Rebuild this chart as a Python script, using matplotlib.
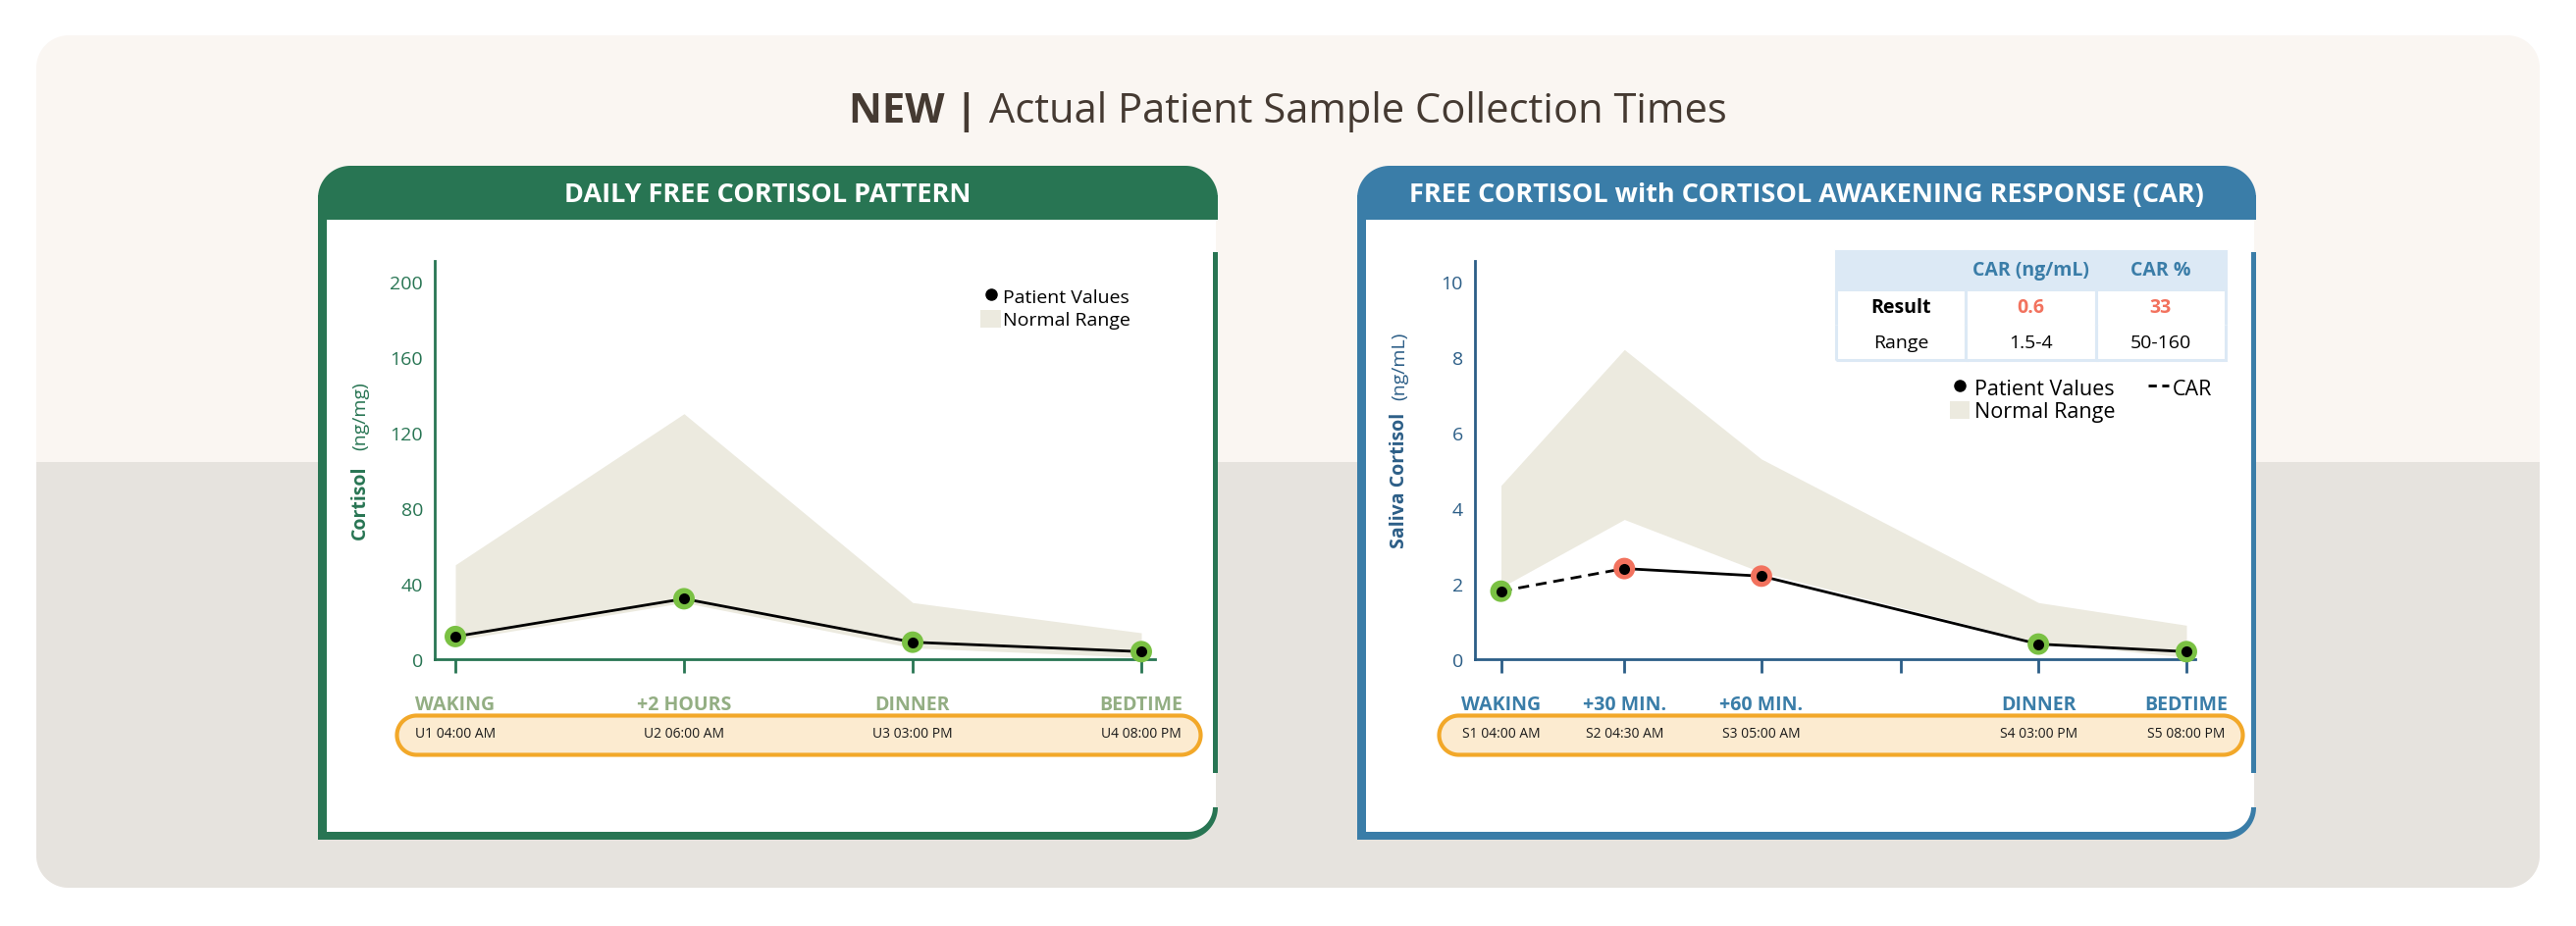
import numpy as np
import matplotlib
matplotlib.use('Agg')
import matplotlib.pyplot as plt
from matplotlib.patches import Polygon, Rectangle, Patch
from matplotlib.lines import Line2D
from matplotlib import transforms

plt.rcParams['font.family'] = ['Open Sans', 'DejaVu Sans']

W, H = 2625, 945

# daily free cortisol (urine), ng/mg
daily_labels = ['WAKING', '+2 HOURS', 'DINNER', 'BEDTIME']
daily_times = ['U1 04:00 AM', 'U2 06:00 AM', 'U3 03:00 PM', 'U4 08:00 PM']
daily_values = [12, 32, 9, 4]
daily_low = [10, 30, 6, 1]
daily_high = [50, 130, 30, 14]
daily_flag = ['ok', 'ok', 'ok', 'ok']
daily_yticks = [0, 40, 80, 120, 160, 200]

# saliva cortisol with awakening response, ng/mL
car_slots = [0, 0.9, 1.9, 2.92, 3.92, 5.0]
car_labels = ['WAKING', '+30 MIN.', '+60 MIN.', '', 'DINNER', 'BEDTIME']
car_times = ['S1 04:00 AM', 'S2 04:30 AM', 'S3 05:00 AM', '', 'S4 03:00 PM', 'S5 08:00 PM']
car_sample_slot = [0, 1, 2, 4, 5]
car_values = [1.8, 2.4, 2.2, 0.4, 0.2]
car_low = [1.9, 3.7, 2.3, 0.45, 0.05]
car_high = [4.6, 8.2, 5.3, 1.5, 0.9]
car_flag = ['ok', 'low', 'low', 'ok', 'ok']
car_yticks = [0, 2, 4, 6, 8, 10]

table_cols = ['', 'CAR (ng/mL)', 'CAR %']
table_rows = [['Result', '0.6', '33'], ['Range', '1.5-4', '50-160']]

# colours
CARD_TOP = '#FAF6F2'
CARD_BOT = '#E6E3DE'
GREEN = '#287553'
BLUE = '#3A7DA8'
DARK_BLUE = '#2C5E87'
BAND = '#ECEADF'
HALO = {'ok': '#7AC143', 'low': '#F2725E'}
PILL_FC = '#FCEBD0'
PILL_EC = '#F2A829'
INK = '#453A32'
TBL = '#DCE9F5'
RED = '#F2725E'


def rounded(x0, y0, x1, y1, tl=0, tr=0, br=0, bl=0, n=24):
    # polygon of a box in pixel coords (y down) with per-corner radius
    t = np.linspace(0, np.pi / 2, n)
    pts = []
    pts += list(zip(x0 + tl - tl * np.cos(t), y0 + tl - tl * np.sin(t)))
    pts += list(zip(x1 - tr + tr * np.sin(t), y0 + tr - tr * np.cos(t)))
    pts += list(zip(x1 - br + br * np.cos(t), y1 - br + br * np.sin(t)))
    pts += list(zip(x0 + bl - bl * np.sin(t), y1 - bl + bl * np.cos(t)))
    return np.array(pts)


fig = plt.figure(figsize=(W / 100, H / 100), dpi=100)
fig.patch.set_facecolor('white')
bg = fig.add_axes([0, 0, 1, 1])
bg.set_xlim(0, W)
bg.set_ylim(H, 0)
bg.axis('off')


def px_axes(x0, y0, x1, y1):
    return fig.add_axes([x0 / W, 1 - y1 / H, (x1 - x0) / W, (y1 - y0) / H])


# card background, two tones
bg.add_patch(Polygon(rounded(37, 37, 2588, 906, 33, 33, 33, 33), closed=True, fc=CARD_TOP, ec='none'))
bg.add_patch(Polygon(rounded(37, 472, 2588, 906, 0, 0, 33, 33), closed=True, fc=CARD_BOT, ec='none'))

# main title
t1 = bg.text(0, 125, 'NEW |', fontsize=30, weight='bold', color=INK, va='baseline')
t2 = bg.text(0, 125, ' Actual Patient Sample Collection Times', fontsize=30, color=INK, va='baseline')
r = fig.canvas.get_renderer()
w1 = t1.get_window_extent(r).width
w2 = t2.get_window_extent(r).width
x_start = 1312.5 - (w1 + w2) / 2
t1.set_x(x_start)
t2.set_x(x_start + w1)


def panel(x0, x1, color, title):
    # outer frame (left + bottom + round bottom-right corner), white inside
    bg.add_patch(Polygon(rounded(x0, 200, x1, 857, br=33), closed=True, fc=color, ec='none'))
    bg.add_patch(Polygon(rounded(x0 + 9, 200, x1 - 5, 849, br=25), closed=True, fc='white', ec='none'))
    # the right edge line stops short at both ends
    for ya, yb, back in [(225, 258, CARD_TOP), (789, 824, CARD_BOT)]:
        bg.add_patch(Rectangle((x1 - 5, ya), 2.5, yb - ya, fc='white', ec='none'))
        bg.add_patch(Rectangle((x1 - 2.5, ya), 3, yb - ya, fc=back, ec='none'))
    bg.add_patch(Polygon(rounded(x0, 170, x1, 225, tl=33, tr=33), closed=True, fc=color, ec='none'))
    bg.text((x0 + x1) / 2, 206, title, color='white', fontsize=19.5, weight='bold',
            ha='center', va='baseline')


panel(324, 1241, GREEN, 'DAILY FREE CORTISOL PATTERN')
panel(1383, 2299, BLUE, 'FREE CORTISOL with CORTISOL AWAKENING RESPONSE (CAR)')

# time pills
for x0, x1 in [(403, 1225), (1465, 2287)]:
    bg.add_patch(Polygon(rounded(x0 + 1.5, 730.5, x1 - 1.5, 770.5, 20, 20, 20, 20), closed=True,
                         fc=PILL_FC, ec=PILL_EC, lw=3))


def style_axes(ax, spine_color, tick_color, cat_color):
    ax.patch.set_alpha(0)
    for s in ['top', 'right']:
        ax.spines[s].set_visible(False)
    for s in ['left', 'bottom']:
        ax.spines[s].set_color(spine_color)
        ax.spines[s].set_linewidth(2)
    ax.tick_params(axis='y', length=0, pad=8.6, labelsize=14, labelcolor=tick_color)
    ax.tick_params(axis='x', length=10, width=2, color=spine_color, pad=16,
                   labelsize=14, labelcolor=cat_color)
    for lab in ax.get_xticklabels():
        lab.set_fontweight('bold')


# ---- left chart
ax1 = px_axes(443, 267, 1177, 673)
xs = np.arange(len(daily_values))
ax1.fill_between(xs, daily_low, daily_high, color=BAND, lw=0, zorder=1)
ax1.plot(xs, daily_values, color='black', lw=2, zorder=3)
ax1.scatter(xs, daily_values, s=15.8 ** 2, c=[HALO[f] for f in daily_flag], lw=0, zorder=4, clip_on=False)
ax1.scatter(xs, daily_values, s=8 ** 2, c='black', lw=0, zorder=5, clip_on=False)
ax1.set_ylim(0, 200 * 406 / 385)
ax1.set_xlim(-21 / 233, 3 + 14 / 233)
ax1.set_yticks(daily_yticks)
ax1.set_xticks(xs, daily_labels)
style_axes(ax1, GREEN, GREEN, '#93AE83')
blend1 = transforms.blended_transform_factory(ax1.transData, bg.transData)
for x, t in zip(xs, daily_times):
    ax1.text(x, 749, t, transform=blend1, ha='center', va='center', fontsize=10, color='#1A1A1A')
ax1.legend(handles=[Line2D([], [], marker='o', color='black', ls='none', markersize=8),
                    Patch(facecolor=BAND, edgecolor='none')],
           labels=['Patient Values', 'Normal Range'], loc='upper left',
           bbox_to_anchor=(999, 293), bbox_transform=bg.transData, frameon=False,
           fontsize=14, handlelength=1.08, handleheight=1.05, handletextpad=0.1,
           labelspacing=0.2, borderpad=0, borderaxespad=0)

bg.text(367, 474.7, 'Cortisol', rotation=90, rotation_mode='anchor', ha='right', va='center',
        fontsize=14, weight='bold', color=GREEN)
bg.text(367, 459, '(ng/mg)', rotation=90, rotation_mode='anchor', ha='left', va='center',
        fontsize=14, color=GREEN)

# ---- right chart
ax2 = px_axes(1503, 267, 2237, 673)
cx = [car_slots[i] for i in car_sample_slot]
ax2.fill_between(cx, car_low, car_high, color=BAND, lw=0, zorder=1)
ax2.plot(cx[:2], car_values[:2], color='black', lw=2, ls=(0, (4, 2.5)), zorder=3)
ax2.plot(cx[1:], car_values[1:], color='black', lw=2, zorder=3)
ax2.scatter(cx, car_values, s=15.8 ** 2, c=[HALO[f] for f in car_flag], lw=0, zorder=4, clip_on=False)
ax2.scatter(cx, car_values, s=8 ** 2, c='black', lw=0, zorder=5, clip_on=False)
ax2.set_ylim(0, 10 * 406 / 385)
ax2.set_xlim(-26.5 / 139.7, 5 + 9 / 139.7)
ax2.set_yticks(car_yticks)
ax2.set_xticks(car_slots, car_labels)
style_axes(ax2, DARK_BLUE, DARK_BLUE, BLUE)
blend2 = transforms.blended_transform_factory(ax2.transData, bg.transData)
for x, t in zip(car_slots, car_times):
    if t:
        ax2.text(x, 749, t, transform=blend2, ha='center', va='center', fontsize=10, color='#1A1A1A')
ax2.legend(handles=[Line2D([], [], marker='o', color='black', ls='none', markersize=8),
                    Patch(facecolor=BAND, edgecolor='none'),
                    Line2D([], [], color='black', lw=2, ls=(0, (3, 2)))],
           labels=['Patient Values', 'Normal Range', 'CAR'], ncol=2, loc='upper left',
           bbox_to_anchor=(1987, 386), bbox_transform=bg.transData, frameon=False,
           fontsize=15.5, handlelength=0.95, handleheight=0.93, handletextpad=0.19,
           labelspacing=0.1, columnspacing=1.6, borderpad=0, borderaxespad=0)

bg.text(1426, 421, 'Saliva Cortisol', rotation=90, rotation_mode='anchor', ha='right', va='center',
        fontsize=14, weight='bold', color=DARK_BLUE)
bg.text(1426, 407.8, '(ng/mL)', rotation=90, rotation_mode='anchor', ha='left', va='center',
        fontsize=14, color=DARK_BLUE)

# CAR summary table
tbl = bg.table(cellText=[table_cols] + table_rows, cellLoc='center',
               bbox=[1871 / W, 1 - 368 / H, 397 / W, 111 / H])
tbl.set_zorder(10)
tbl.auto_set_font_size(False)
for (row, col), cell in tbl.get_celld().items():
    cell.set_edgecolor(TBL)
    cell.set_linewidth(2.2)
    cell.set_height(39 if row == 0 else 36)
    txt = cell.get_text()
    txt.set_fontsize(14)
    if row == 0:
        cell.set_facecolor(TBL)
        txt.set_color(BLUE)
        txt.set_fontweight('bold')
    else:
        cell.set_facecolor('white')
        txt.set_color('black')
    if row == 1:
        cell.visible_edges = 'LRT'
        txt.set_fontweight('bold')
        if col > 0:
            txt.set_color(RED)
    if row == 2:
        cell.visible_edges = 'LRB'

fig.savefig('out.png', dpi=100)
